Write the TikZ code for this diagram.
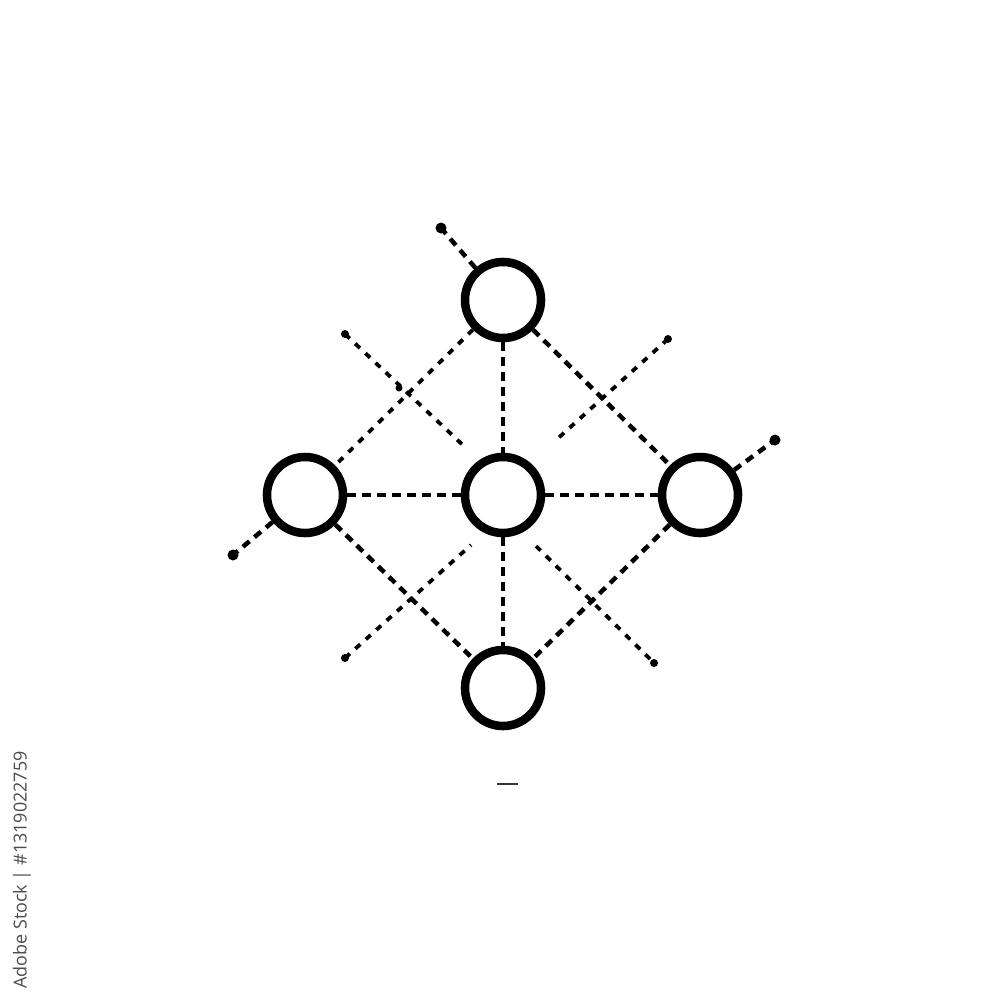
\documentclass[tikz,border=0pt]{standalone}
\usepackage{fontspec}
\newfontfamily\idfont{Open Sans}
\begin{document}
\begin{tikzpicture}[x=0.01cm,y=-0.01cm,
  ring/.style={circle,draw=black,line width=0.085cm,minimum size=0.76cm,inner sep=0pt,fill=white},
  link/.style={line width=0.045cm,dash pattern=on 0.085cm off 0.065cm},
  thin link/.style={line width=0.038cm,dash pattern=on 0.065cm off 0.075cm},
  enddot/.style={fill=black}]
\useasboundingbox[fill=white] (0,0) rectangle (1000,1000);
% crossing lines
\coordinate (tlA) at (345,334);
\coordinate (tlB) at (466,448);
\coordinate (trA) at (668,339);
\coordinate (trB) at (555,441);
\coordinate (blA) at (345,658);
\coordinate (blB) at (471,545);
\coordinate (brA) at (536,546);
\coordinate (brB) at (654,663);
\draw[thin link] (tlA) -- (tlB);
\draw[thin link] (trA) -- (trB);
\draw[thin link] (blA) -- (blB);
\draw[thin link] (brA) -- (brB);
\fill (tlA) circle[radius=0.04cm];
\fill (trA) circle[radius=0.04cm];
\fill (blA) circle[radius=0.04cm];
\fill (brB) circle[radius=0.04cm];
\fill (399,388) circle[radius=0.035cm];
% nodes
\node[ring] (top) at (503,300) {};
\node[ring] (mid) at (503,495) {};
\node[ring] (lft) at (305,495) {};
\node[ring] (rgt) at (700,495) {};
\node[ring] (bot) at (503,688) {};
% free ends
\coordinate (eTop) at (441,228);
\coordinate (eRgt) at (775,440);
\coordinate (eLft) at (233,555);
\draw[link] (top) -- (mid);
\draw[link] (mid) -- (bot);
\draw[link] (lft) -- (mid);
\draw[link] (mid) -- (rgt);
\draw[thin link] (top) -- (lft);
\draw[link] (top) -- (rgt);
\draw[link] (rgt) -- (bot);
\draw[link] (lft) -- (bot);
\draw[link] (top) -- (eTop);
\draw[link] (rgt) -- (eRgt);
\draw[link] (lft) -- (eLft);
\fill (eTop) circle[radius=0.055cm];
\fill (eRgt) circle[radius=0.055cm];
\fill (eLft) circle[radius=0.055cm];
% small bar
\coordinate (barL) at (497,784);
\coordinate (barR) at (518,784);
\draw[line width=0.025cm,black!80] (barL) -- (barR);
% stock id
\node[rotate=90,text=black!70,inner sep=0pt,font=\idfont\fontsize{5.1}{6}\selectfont] (id) at (22,870) {Adobe Stock | \#1319022759};
\end{tikzpicture}
\end{document}
